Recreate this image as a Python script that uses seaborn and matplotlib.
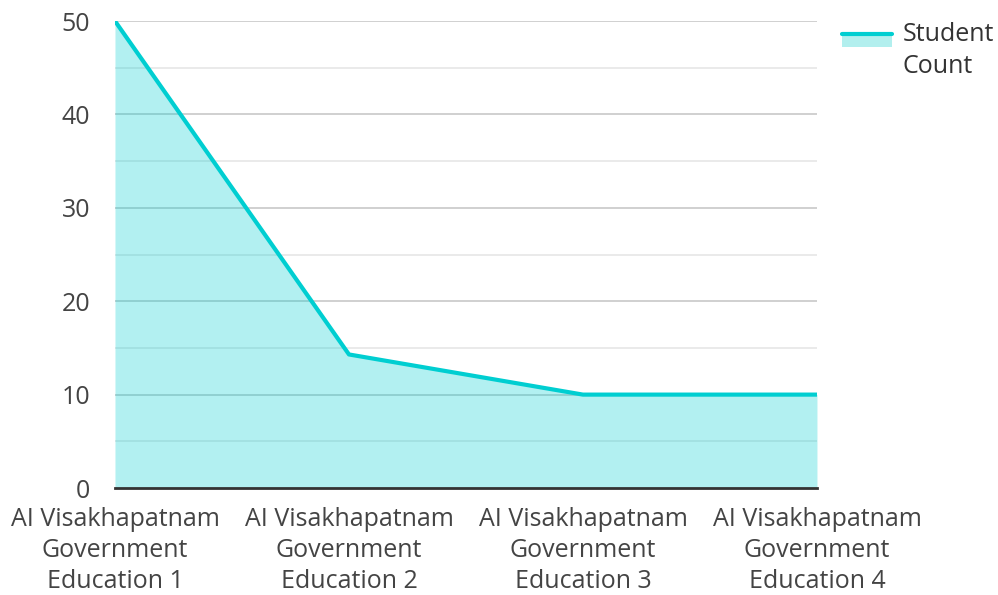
import matplotlib
matplotlib.use("Agg")
import matplotlib.pyplot as plt
import seaborn as sns
import pandas as pd
from matplotlib.patches import Rectangle
from matplotlib.lines import Line2D

categories = ["AI Visakhapatnam\nGovernment\nEducation 1",
              "AI Visakhapatnam\nGovernment\nEducation 2",
              "AI Visakhapatnam\nGovernment\nEducation 3",
              "AI Visakhapatnam\nGovernment\nEducation 4"]
student_count = [50, 14.3, 10, 10]
series_name = "Student\nCount"

sns.set_theme(style="white")
plt.rcParams['font.family'] = ['Open Sans', 'DejaVu Sans']

line_color = "#00CED1"
fill_color = "#B2EFEE"
FS = 18
OFFSET = 6


class AreaHandler:
    def legend_artist(self, legend, orig_handle, fontsize, handlebox):
        x0, y0 = handlebox.xdescent, handlebox.ydescent
        w, h = handlebox.width, handlebox.height
        top = y0 + h + OFFSET
        patch = Rectangle([x0, top - 9], w, 9, facecolor=fill_color, edgecolor="none",
                          transform=handlebox.get_transform())
        line = Line2D([x0, x0 + w], [top, top], color=line_color, lw=3,
                      transform=handlebox.get_transform())
        handlebox.add_artist(patch)
        handlebox.add_artist(line)
        return line


fig = plt.figure(figsize=(9.98, 5.95), dpi=100)
ax = fig.add_axes([0.1152, 0.1798, 0.8186 - 0.1152, 0.9647 - 0.1798])

df = pd.DataFrame({"x": range(len(categories)), "y": student_count})

for v in range(5, 51, 5):
    if v % 10 == 0:
        ax.axhline(v, color="#C8C8C8", lw=1.2, zorder=0)
    else:
        ax.axhline(v, color="#E6E6E6", lw=1.2, zorder=0)

ax.fill_between(df["x"], df["y"], 0, color="#00CED1", alpha=0.30, lw=0, zorder=1)
sns.lineplot(data=df, x="x", y="y", ax=ax, color=line_color, lw=3, zorder=3)

ax.set_xlim(0, 3)
ax.set_ylim(0, 50)
ax.set_xticks(range(len(categories)))
ax.set_xticklabels(categories, fontsize=FS, color="#444444", linespacing=1.33)
ax.set_yticks([0, 10, 20, 30, 40, 50])
ax.set_yticklabels(["0", "10", "20", "30", "40", "50"], fontsize=FS, color="#444444")
ax.tick_params(axis="y", length=0, pad=18)
ax.tick_params(axis="x", length=0, pad=13.5)
ax.set_xlabel("")
ax.set_ylabel("")
for s in ["top", "right", "left"]:
    ax.spines[s].set_visible(False)
ax.spines["bottom"].set_color("#333333")
ax.spines["bottom"].set_linewidth(2)
ax.spines["bottom"].set_zorder(4)

leg = fig.legend([object()], [series_name], loc="upper left",
                 bbox_to_anchor=(842 / 998, 1 - 22 / 595),
                 frameon=False, fontsize=FS, handlelength=2.0, handletextpad=0.42,
                 borderpad=0, borderaxespad=0,
                 handler_map={object: AreaHandler()})
for t in leg.get_texts():
    t.set_color("#333333")
    t.set_linespacing(1.38)

fig.savefig("out.png", dpi=100)
